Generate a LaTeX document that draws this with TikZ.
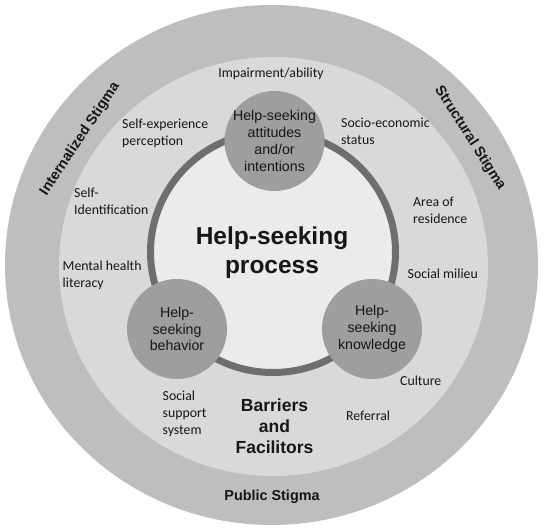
\documentclass[tikz,border=0pt]{standalone}
\usepackage{fontspec}
\setmainfont{Carlito}
\newfontfamily\arialf{Liberation Sans}
\definecolor{outerg}{RGB}{190,190,190}
\definecolor{midg}{RGB}{217,217,217}
\definecolor{coreg}{RGB}{236,234,234}
\definecolor{ringg}{RGB}{110,110,110}
\definecolor{bubg}{RGB}{158,158,158}
\definecolor{txt}{RGB}{22,22,22}
\newcommand{\stigfont}{\arialf\bfseries\fontsize{14.4}{17}\selectfont}
\begin{document}
\begin{tikzpicture}[x=1pt,y=-1pt,
  lbl/.style={font=\fontsize{13.8}{17}\selectfont, align=left, anchor=west, inner sep=0pt, text=txt},
  bub/.style={circle, fill=bubg, minimum size=100pt, inner sep=0pt},
  bubtxt/.style={font=\arialf\fontsize{14.2}{16.8}\selectfont, align=center, inner sep=0pt, text=txt},
  bigtxt/.style={font=\arialf\bfseries\fontsize{24.5}{29}\selectfont, align=center, inner sep=0pt, text=txt},
  bftxt/.style={font=\arialf\bfseries\fontsize{17.5}{21}\selectfont, align=center, inner sep=0pt, text=txt},
  stig/.style={font=\stigfont, inner sep=0pt, text=txt}
]
\useasboundingbox (0,0) rectangle (545,529);
\coordinate (C) at (271.5,265);
\coordinate (M) at (273.5,266.5);
\coordinate (P) at (273,252);
% rings
\fill[outerg] (C) ellipse [x radius=266.5pt, y radius=260pt];
\fill[midg] (M) ellipse [x radius=214.5pt, y radius=209.5pt];
\draw[ringg, line width=7pt, fill=coreg] (P) ellipse [x radius=122.5pt, y radius=120.5pt];
% bubbles
\node[bub] (att) at (274.5,141) {};
\node[bubtxt] (attT) at (att) {Help-seeking\\attitudes\\and/or\\intentions};
\node[bub] (beh) at (177,329) {};
\node[bubtxt] (behT) at (beh) {Help-\\seeking\\behavior};
\node[bub] (kno) at (372,329) {};
\node[bubtxt] (knoT) at (kno) {Help-\\seeking\\knowledge};
% central texts
\node[bigtxt] (hsp) at (272,253) {Help-seeking\\process};
\node[bftxt] (bf) at (274.5,426) {Barriers\\and\\Facilitors};
% factor labels
\node[lbl, anchor=center] (imp) at (271,74) {Impairment/ability};
\node[lbl] (sep) at (122,133) {Self-experience\\perception};
\node[lbl] (soc) at (341,131) {Socio-economic\\status};
\node[lbl] (sid) at (74,201) {Self-\\Identification};
\node[lbl] (are) at (413,210) {Area of\\residence};
\node[lbl] (mhl) at (62.5,275.5) {Mental health\\literacy};
\node[lbl] (mil) at (407.5,274) {Social milieu};
\node[lbl] (cul) at (400,381) {Culture};
\node[lbl] (sss) at (162.5,414) {Social\\support\\system};
\node[lbl] (ref) at (346,416) {Referral};
% stigma labels
\node[stig] (pub) at (272,497) {Public Stigma};
\node[stig, rotate=56.4] (int) at (80,139) {Internalized Stigma};
\node[stig, rotate=-57.5] (str) at (470,138) {Structural Stigma};
\end{tikzpicture}
\end{document}
